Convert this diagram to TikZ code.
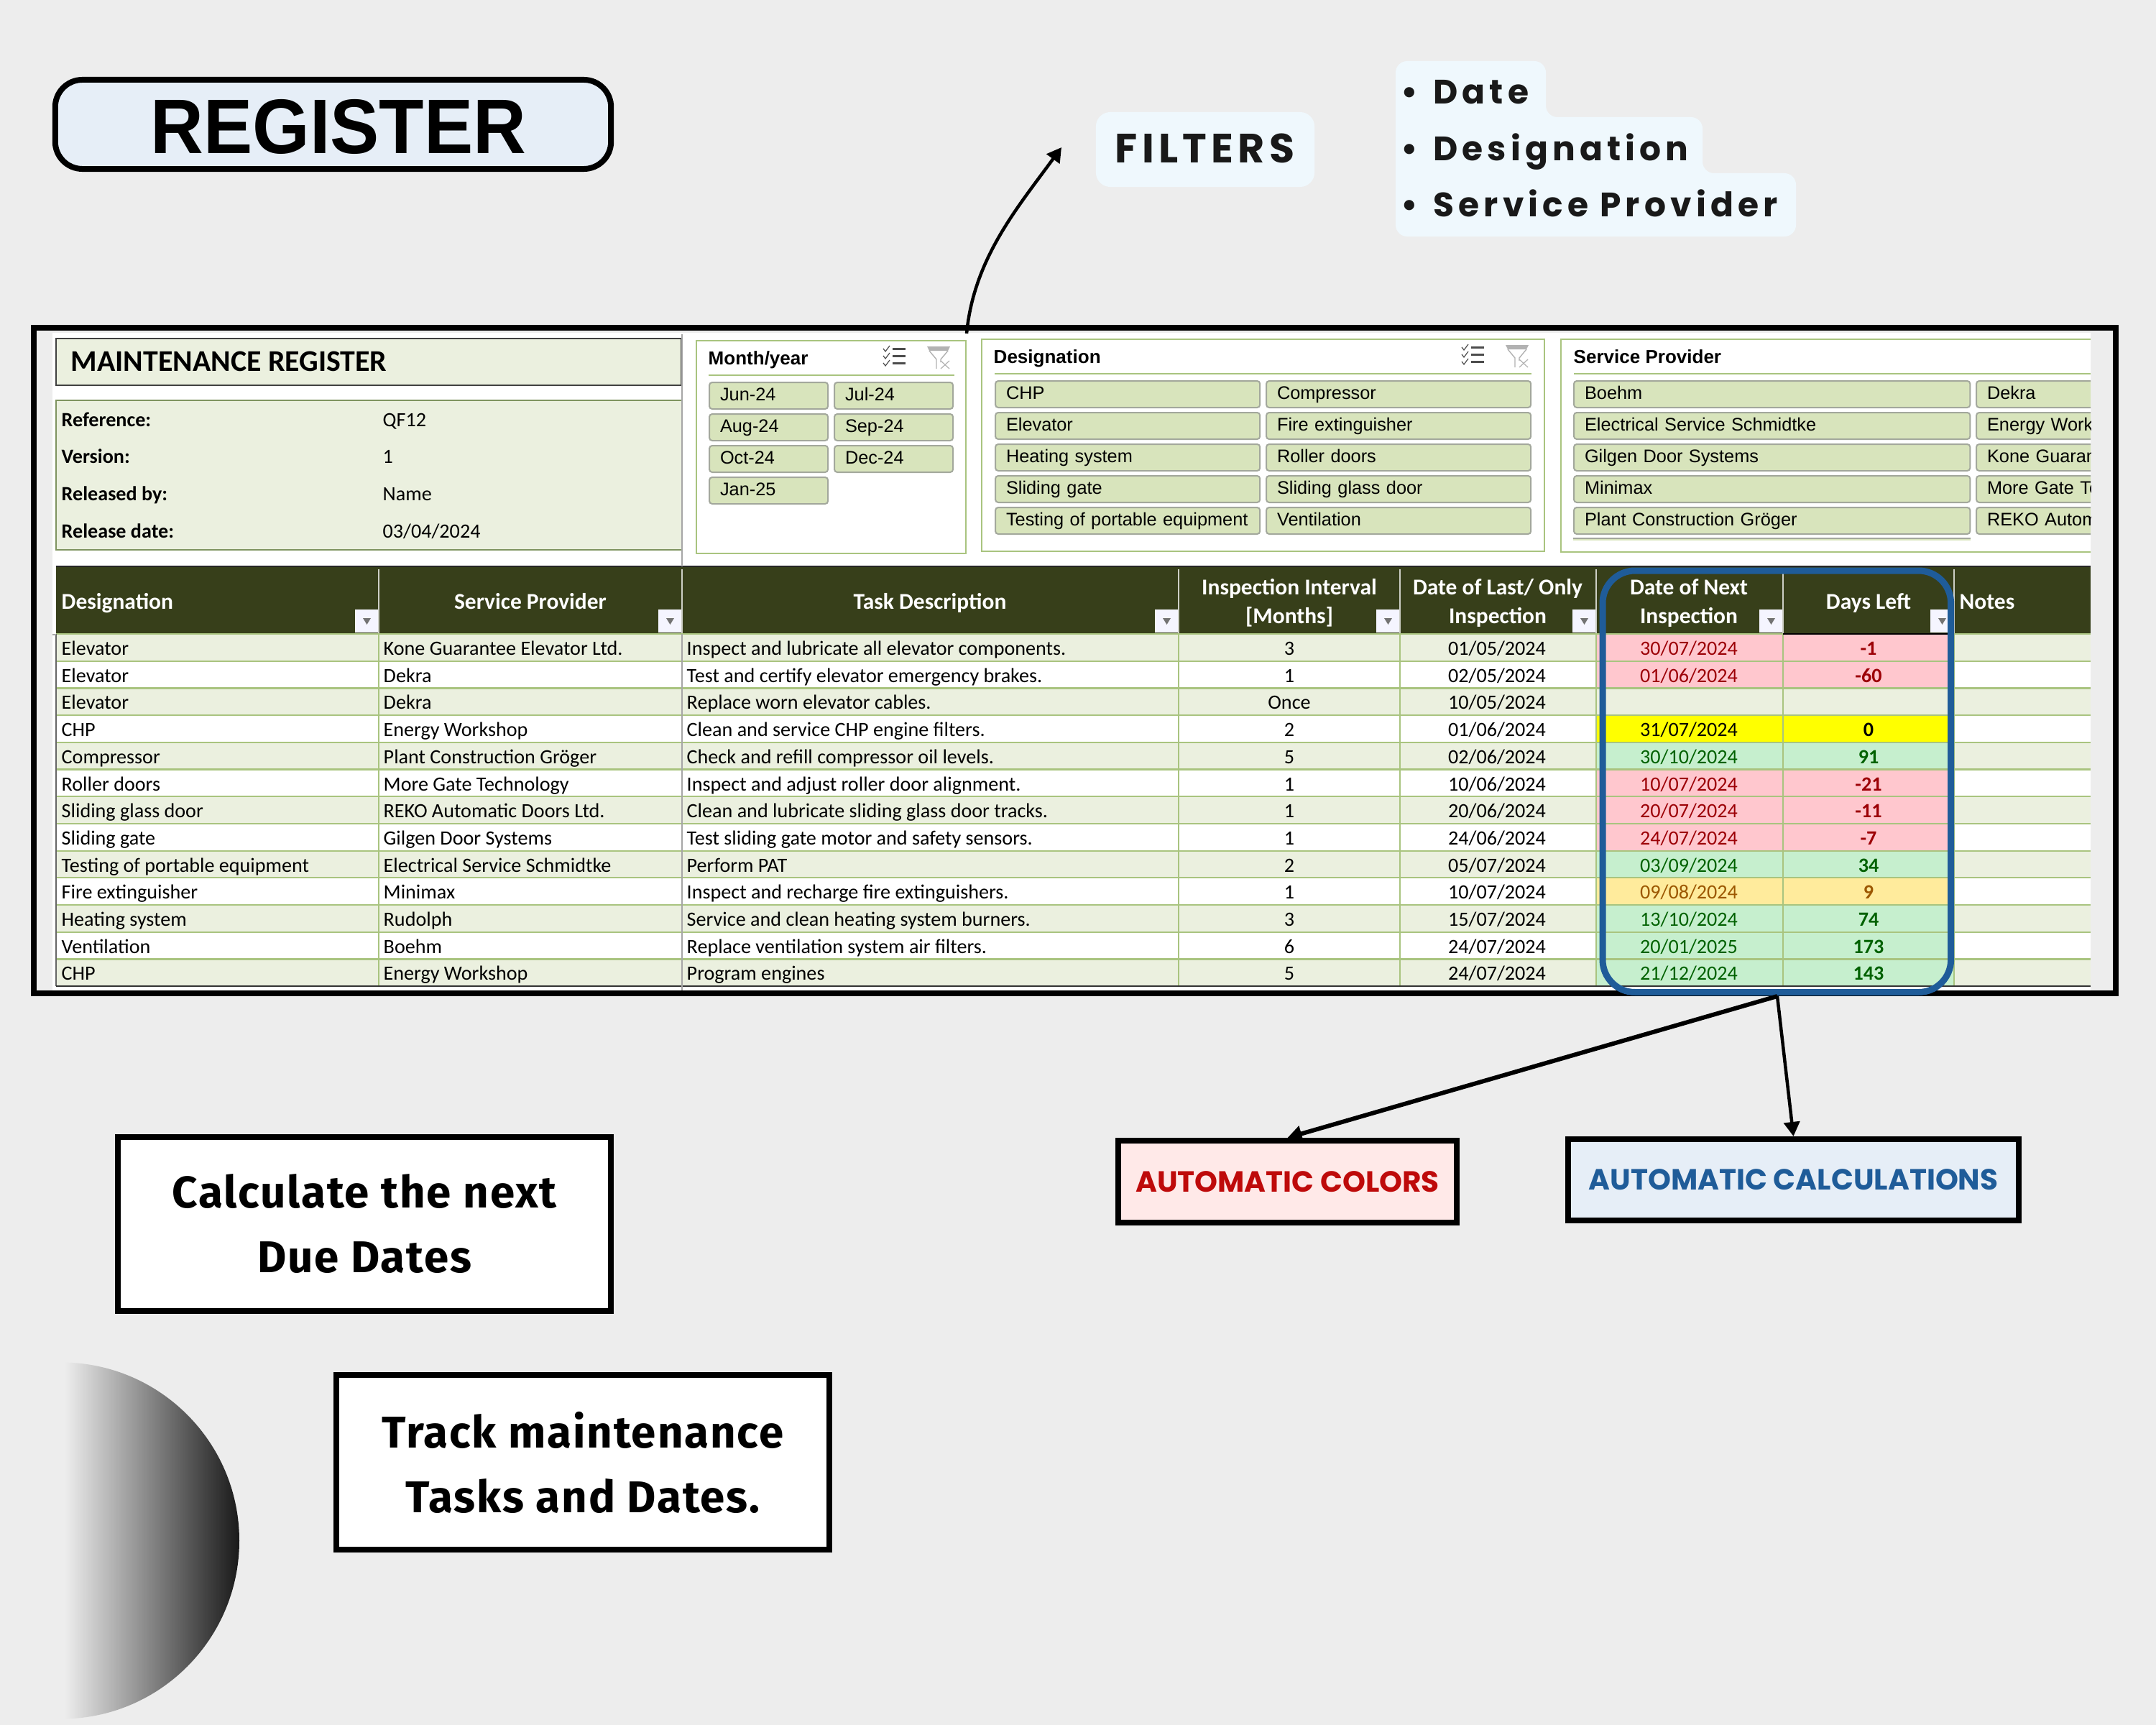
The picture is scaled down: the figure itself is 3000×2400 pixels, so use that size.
\documentclass[tikz,border=0pt]{standalone}
\usepackage{fontspec}
\usetikzlibrary{arrows.meta}
\newfontfamily\sheetfont{Carlito}
\newfontfamily\slicerfont{Liberation Sans}
\newfontfamily\regfont[FakeStretch=0.95]{Liberation Sans}
\newfontfamily\filterfont[LetterSpace=11]{Poppins}
\newfontfamily\listfont[LetterSpace=13]{Poppins}
\newfontfamily\autofont{Poppins}
\newfontfamily\taskfont[LetterSpace=3]{Fira Sans}
\definecolor{pagebg}{HTML}{EDEDED}
\definecolor{tint}{HTML}{EBF0DF}
\definecolor{headbg}{HTML}{373F1A}
\definecolor{gridgreen}{HTML}{A9C47F}
\definecolor{infoedge}{HTML}{7F9460}
\definecolor{chipfill}{HTML}{D8E4BC}
\definecolor{chipedge}{HTML}{A3A89C}
\definecolor{bubble}{HTML}{EFF8FD}
\definecolor{paleblue}{HTML}{E6EEF7}
\definecolor{palered}{HTML}{FFE9E8}
\definecolor{tracecol}{HTML}{1F5C99}
\definecolor{autored}{HTML}{BE0A0A}
\definecolor{cfredbg}{HTML}{FFC7CE}
\definecolor{cfredtx}{HTML}{9C0006}
\definecolor{cfgreenbg}{HTML}{C6EFCE}
\definecolor{cfgreentx}{HTML}{006100}
\definecolor{cfyellowbg}{HTML}{FFFF00}
\definecolor{cfyellowtx}{HTML}{000000}
\definecolor{cfamberbg}{HTML}{FFEB9C}
\definecolor{cfambertx}{HTML}{9C5700}
\colorlet{cfnonebg}{tint}
\colorlet{cfnonetx}{black}
\tikzset{
  sheettext/.style={inner sep=0pt,font=\sheetfont\fontsize{8}{9}\selectfont},
  cellleft/.style={sheettext,anchor=base west},
  cellmid/.style={sheettext,anchor=base},
  headcell/.style={inner sep=0pt,anchor=base,text=white,font=\sheetfont\bfseries\fontsize{8.95}{10}\selectfont},
  infolabel/.style={sheettext,anchor=base west,font=\sheetfont\bfseries\fontsize{8}{9}\selectfont},
  slicerbox/.style={draw=gridgreen,fill=white,line width=0.02cm},
  slicertitle/.style={inner sep=0pt,anchor=base west,font=\slicerfont\bfseries\fontsize{7.4}{9}\selectfont},
  chip/.style={draw=chipedge,fill=chipfill,line width=0.02cm,rounded corners=0.04cm,anchor=north west,
    inner xsep=0.15cm,inner ysep=0.06cm,text height=0.19cm,text depth=0.06cm,align=left,
    font=\slicerfont\fontsize{7.2}{9}\selectfont},
  monthchip/.style={chip,text width=1.35cm},
  desigchip/.style={chip,text width=3.38cm},
  provchip/.style={chip,text width=5.21cm},
  headline/.style={line width=0.015cm,draw=white!75!headbg},
  gridline/.style={line width=0.022cm,draw=gridgreen},
  tracebox/.style={draw=tracecol,line width=0.09cm,rounded corners=0.45cm},
  pointer/.style={draw=black,-{Stealth[length=0.2cm,width=0.22cm,inset=0pt]}},
  autobox/.style={draw=black,line width=0.08cm,inner sep=0pt,font=\autofont\bfseries\fontsize{11.55}{13}\selectfont},
  taskbox/.style={draw=black,line width=0.08cm,fill=white,inner sep=0pt,align=center,
    minimum width=6.86cm,minimum height=2.42cm,font=\taskfont\bfseries\fontsize{17.6}{25.6}\selectfont},
  bubbletext/.style={inner sep=0pt,anchor=base west,text=black!90,font=\listfont\bfseries\fontsize{13.4}{16}\selectfont},
  checkicon/.pic={
    \foreach \d in {0,10,20} {
      \draw[line width=0.012cm,black!70] (0,\d+3) -- (3,\d+7) -- (9,\d-1);
      \fill[black!70] (13,\d+2) rectangle (31,\d+5);
    }
  },
  clearicon/.pic={
    \fill[black!30] (0,0) -- (32,0) -- (29,6) -- (3,6) -- cycle;
    \draw[line width=0.014cm,black!30] (3,6) -- (13,18) -- (13,31) (29,6) -- (19,18) -- (19,22);
    \draw[line width=0.012cm,black!30] (19,20) -- (31,31) (31,20) -- (19,31);
  }
}
\begin{document}
\begin{tikzpicture}[x=0.01cm,y=-0.01cm]
\useasboundingbox (0,0) rectangle (3000,2400);
\fill[pagebg] (0,0) rectangle (3000,2400);

% title pill
\node[draw=black,fill=paleblue,line width=0.08cm,rounded corners=0.38cm,minimum width=7.73cm,minimum height=1.24cm,inner sep=0pt] (regpill) at (463.5,173) {};
\node[inner sep=0pt,anchor=base,font=\regfont\bfseries\fontsize{30.6}{36}\selectfont] (regtitle) at (471,214) {REGISTER};

% filters labels
\node[fill=bubble,rounded corners=0.2cm,minimum width=3.04cm,minimum height=1.04cm,inner sep=0pt] (filterbox) at (1677,208) {};
\node[inner sep=0pt,anchor=base west,text=black!90,font=\filterfont\bfseries\fontsize{16.2}{20}\selectfont] (filtertitle) at (1551,227) {FILTERS};
\fill[bubble,rounded corners=0.16cm] (1942,85) -- (2151,85) -- (2151,163) -- (2369,163) -- (2369,241) -- (2499,241) -- (2499,329) -- (1942,329) -- cycle;
\node[bubbletext] (listdate) at (1949,145) {•\hspace{0.05cm} Date};
\node[bubbletext] (listdesig) at (1949,223) {•\hspace{0.05cm} Designation};
\node[bubbletext] (listprov) at (1949,301) {•\hspace{0.05cm} Service Provider};

% sheet and its frame
\fill[white] (73,463) rectangle (2909,1378);
\draw[black,line width=0.08cm] (47,456) rectangle (2944,1382);

% header block left
\node[draw=black!75,fill=tint,line width=0.02cm,minimum width=8.7cm,minimum height=0.65cm,inner sep=0pt] (regbox) at (513,503.5) {};
\node[cellleft,font=\sheetfont\bfseries\fontsize{11.9}{14}\selectfont] (regname) at (98,516) {MAINTENANCE REGISTER};
\fill[tint] (78,557) rectangle (948,765);
\draw[infoedge,line width=0.022cm] (948,557) -- (78,557) -- (78,765) -- (948,765);
\foreach \lab/\val/\yb [count=\n] in {Reference:/QF12/593,Version:/1/644,Released by:/Name/696,Release date:/{03/04/2024}/748}
{
\node[infolabel] (lab\n) at (85,\yb) {\lab};
\node[cellleft] (val\n) at (532,\yb) {\val};
}

% slicers
\draw[slicerbox] (969,474) rectangle (1344,770);
\node[slicertitle] (monthtitle) at (985,507) {Month/year};
\draw[gridgreen,line width=0.02cm] (986,522) -- (1328,522);
\foreach \cx/\cy/\lbl [count=\n] in {986/531/Jun-24,1160/531/Jul-24,986/575/Aug-24,1160/575/Sep-24,986/619/Oct-24,1160/619/Dec-24,986/663/Jan-25}
\node[monthchip] (mon\n) at (\cx,\cy) {\mbox{\lbl}};
\pic at (1229,482) {checkicon};
\pic at (1290,482) {clearicon};

\draw[slicerbox] (1366,472) rectangle (2149,767);
\node[slicertitle] (desigtitle) at (1382,505) {Designation};
\draw[gridgreen,line width=0.02cm] (1384,520) -- (2131,520);
\foreach \cx/\cy/\lbl [count=\n] in {1384/529/CHP,1761/529/Compressor,1384/573/Elevator,1761/573/Fire extinguisher,1384/617/Heating system,1761/617/Roller doors,1384/661/Sliding gate,1761/661/Sliding glass door,1384/705/Testing of portable equipment,1761/705/Ventilation}
\node[desigchip] (des\n) at (\cx,\cy) {\mbox{\lbl}};
\pic at (2034,480) {checkicon};
\pic at (2095,480) {clearicon};

\begin{scope}
\clip (2160,465) rectangle (2909,775);
\draw[slicerbox] (2172,472) rectangle (3000,768);
\node[slicertitle] (provtitle) at (2189,505) {Service Provider};
\draw[gridgreen,line width=0.02cm] (2190,520) -- (2909,520);
\foreach \cx/\cy/\lbl [count=\n] in {2189/529/Boehm,2749/529/Dekra,2189/573/Electrical Service Schmidtke,2749/573/Energy Workshop,2189/617/Gilgen Door Systems,2749/617/Kone Guarantee Elevator Ltd.,2189/661/Minimax,2749/661/More Gate Technology,2189/705/Plant Construction Gröger,2749/705/REKO Automatic Doors Ltd.}
\node[provchip] (prov\n) at (\cx,\cy) {\mbox{\lbl}};
\fill[chipfill] (2189,749) rectangle (2742,752);
\draw[chipedge,line width=0.02cm] (2189,749) -- (2742,749);
\end{scope}

% table header
\fill[headbg] (78,789) rectangle (2909,882);
\draw[black!85,line width=0.025cm] (78,788) -- (2909,788);
\foreach \x in {527,949,1640,1948,2221,2481,2719}
{
\draw[headline] (\x,792) -- (\x,882);
\fill[white!96!blue] (\x-33,848) rectangle (\x-1,880);
\fill[black!55] (\x-22,860) -- (\x-11,860) -- (\x-16.5,869) -- cycle;
}
\node[headcell,anchor=base west] (headdes) at (85,847) {Designation};
\node[headcell] (headprov) at (738,847) {Service Provider};
\node[headcell] (headtask) at (1294,847) {Task Description};
\node[headcell] (headint) at (1794,827) {Inspection Interval};
\node[headcell] (headmon) at (1794,867) {[Months]};
\node[headcell] (headlast) at (2084,827) {Date of Last/ Only};
\node[headcell] (headinsa) at (2084,867) {Inspection};
\node[headcell] (headnext) at (2350,827) {Date of Next};
\node[headcell] (headinsb) at (2350,867) {Inspection};
\node[headcell] (headdays) at (2600,847) {Days Left};
\node[headcell,anchor=base west] (headnotes) at (2726,847) {Notes};

% table rows
\foreach \i in {0,2,...,12}
\fill[tint] (78,882+37.7*\i) rectangle (2909,882+37.7*\i+37.7);
\foreach \des/\prov/\task/\intv/\lastd/\nextd/\days/\cf [count=\i from 0, evaluate=\i as \yt using 882+37.7*\i, evaluate=\i as \yb using 911.5+37.7*\i, evaluate=\i as \ye using 919.7+37.7*\i] in {
Elevator/Kone Guarantee Elevator Ltd./Inspect and lubricate all elevator components./3/{01/05/2024}/{30/07/2024}/-1/cfred,
Elevator/Dekra/Test and certify elevator emergency brakes./1/{02/05/2024}/{01/06/2024}/-60/cfred,
Elevator/Dekra/Replace worn elevator cables./Once/{10/05/2024}/{}/{}/cfnone,
CHP/Energy Workshop/Clean and service CHP engine filters./2/{01/06/2024}/{31/07/2024}/0/cfyellow,
Compressor/Plant Construction Gröger/Check and refill compressor oil levels./5/{02/06/2024}/{30/10/2024}/91/cfgreen,
Roller doors/More Gate Technology/Inspect and adjust roller door alignment./1/{10/06/2024}/{10/07/2024}/-21/cfred,
Sliding glass door/REKO Automatic Doors Ltd./Clean and lubricate sliding glass door tracks./1/{20/06/2024}/{20/07/2024}/-11/cfred,
Sliding gate/Gilgen Door Systems/Test sliding gate motor and safety sensors./1/{24/06/2024}/{24/07/2024}/-7/cfred,
Testing of portable equipment/Electrical Service Schmidtke/Perform PAT/2/{05/07/2024}/{03/09/2024}/34/cfgreen,
Fire extinguisher/Minimax/Inspect and recharge fire extinguishers./1/{10/07/2024}/{09/08/2024}/9/cfamber,
Heating system/Rudolph/Service and clean heating system burners./3/{15/07/2024}/{13/10/2024}/74/cfgreen,
Ventilation/Boehm/Replace ventilation system air filters./6/{24/07/2024}/{20/01/2025}/173/cfgreen,
CHP/Energy Workshop/Program engines/5/{24/07/2024}/{21/12/2024}/143/cfgreen}
{
\fill[\cf bg] (2221,\yt) rectangle (2719,\ye);
\node[cellleft] (rowdes\i) at (85,\yb) {\des};
\node[cellleft] (rowprov\i) at (533,\yb) {\prov};
\node[cellleft] (rowtask\i) at (955,\yb) {\task};
\node[cellmid] (rowint\i) at (1794,\yb) {\intv};
\node[cellmid] (rowlast\i) at (2083,\yb) {\lastd};
\node[cellmid,text=\cf tx] (rownext\i) at (2350,\yb) {\nextd};
\node[cellmid,text=\cf tx,font=\sheetfont\bfseries\fontsize{8}{9}\selectfont] (rowdays\i) at (2600,\yb) {\days};
}
\foreach \i in {0,1,...,12}
\draw[gridline] (78,882+37.7*\i) -- (2909,882+37.7*\i);
\foreach \x in {527,1640,1948,2221,2481,2719}
\draw[gridline] (\x,882) -- (\x,1372);
\draw[black!60,line width=0.015cm] (78,882) -- (78,1372);
\draw[black!80,line width=0.02cm] (78,1372) -- (2909,1372);
\draw[black!35,line width=0.02cm] (949,465) -- (949,788) (949,882) -- (949,1378);
\draw[black!35,line width=0.02cm] (73,883) -- (78,883);
\draw[black,line width=0.02cm] (2481,882) -- (2710,882);
\draw[tracebox] (2230,794) rectangle (2714.6,1380.5);

% callout boxes
\node[autobox,fill=palered,text=autored,minimum width=4.71cm,minimum height=1.14cm] (colorbox) at (1791.5,1644) {AUTOMATIC COLORS};
\node[autobox,fill=paleblue,text=tracecol,minimum width=6.27cm,minimum height=1.13cm] (calcbox) at (2495.5,1641.5) {AUTOMATIC CALCULATIONS};
\node[taskbox] (duebox) at (507,1703) {Calculate the next\\Due Dates};
\node[taskbox] (trackbox) at (811,2034.5) {Track maintenance\\Tasks and Dates.};

% fading half disc
\begin{scope}
\clip (85,2143.5) circle (248);
\shade[left color=pagebg,middle color=black!30,right color=black!90] (90,1890) rectangle (333,2400);
\end{scope}

% pointers
\coordinate (filterfoot) at (1345,464);
\coordinate (filtertip) at (1477,205);
\coordinate (tracefoot) at (2473,1386);
\draw[pointer,line width=0.045cm] (filterfoot) .. controls (1355,360) and (1415,290) .. (filtertip);
\draw[pointer,line width=0.06cm] (tracefoot) -- (colorbox.north);
\draw[pointer,line width=0.045cm] (tracefoot) -- (calcbox.north);
\end{tikzpicture}
\end{document}
